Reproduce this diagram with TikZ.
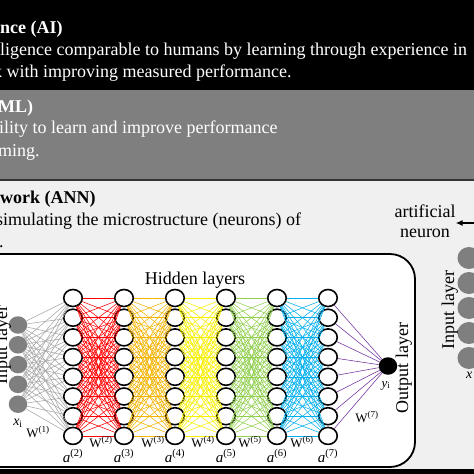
\documentclass[tikz,border=0pt]{standalone}
\usepackage{fontspec}
\setmainfont{Liberation Serif}
\usetikzlibrary{shapes.geometric,arrows.meta}

\definecolor{mlgray}{HTML}{7F7F7F}
\definecolor{anngray}{HTML}{F0F0F0}
\definecolor{ingray}{HTML}{7F7F7F}
\definecolor{wone}{HTML}{A6A6A6}
\definecolor{wtwo}{HTML}{FF0000}
\definecolor{wthree}{HTML}{F5B400}
\definecolor{wfour}{HTML}{F8F000}
\definecolor{wfive}{HTML}{92D050}
\definecolor{wsix}{HTML}{00B0F0}
\definecolor{wseven}{HTML}{7030A0}

\begin{document}
\begin{tikzpicture}[x=1pt, y=-1pt,
    neuron/.style={ellipse, draw, line width=1.6pt, fill=white, minimum width=18.5pt, minimum height=17pt, inner sep=0pt},
    innode/.style={ellipse, fill=ingray, minimum width=18.5pt, minimum height=17.5pt, inner sep=0pt},
    head/.style={anchor=base west, inner sep=0pt, font=\fontsize{18}{22}\selectfont},
    headb/.style={head, font=\fontsize{18}{22}\selectfont\bfseries},
    big/.style={inner sep=0pt, font=\fontsize{18}{20}\selectfont},
    lbl/.style={inner sep=0pt, anchor=base, font=\fontsize{13}{15}\selectfont},
    link/.style={line width=0.55pt}]
      \useasboundingbox (0,0) rectangle (474,474);
      \clip (0,0) rectangle (474,474);
      %\draw [dotted] (0,0) grid[step=50] (474,474);
      \fill [black]   (0,0)   rectangle (474,474);
      \fill [mlgray]  (0,90)  rectangle (474,180);
      \fill [anngray] (0,181) rectangle (474,469);
      \draw [line width=2pt, black!80] (0,180) -- (474,180);
      \draw [line width=1.8pt, fill=white, rounded corners=25pt] (-30,254) rectangle (415,467);

      \node [headb, text=white] (ai1) at ( 0, 33) {nce (AI)};
      \node [head,  text=white] (ai2) at ( 0, 55) {ligence comparable to humans by learning through experience in};
      \node [head,  text=white] (ai3) at (-7, 77) {k with improving measured performance.};
      \node [headb, text=white] (ml1) at (-2,112) {ML)};
      \node [head,  text=white] (ml2) at (-1,133) {ility to learn and improve performance};
      \node [head,  text=white] (ml3) at (-2,156) {ming.};
      \node [headb]             (an1) at ( 0,203) {work (ANN)};
      \node [head]              (an2) at (-4,225) {simulating the microstructure (neurons) of};
      \node [head]              (an3) at (-1,247) {.};

      \node [big, align=center] (artn) at (425,221) {artificial\\neuron};
      \coordinate (arrst) at (476,223);
      \draw [line width=1.2pt, -{Latex[length=7pt,width=6pt]}] (arrst) -- (artn.east |- arrst);

      \foreach \k in {1,...,5}
        \node [innode] (x\k) at (18, {325+(\k-1)*19.8}) {};
      \foreach \l/\x in {2/73,3/124,4/175,5/226,6/277,7/328}
        \foreach \k in {1,...,8}
          \node [neuron] (a\l-\k) at (\x, {298+(\k-1)*19.7}) {};
      \node [ellipse, fill=black, minimum width=18.5pt, minimum height=17.5pt, inner sep=0pt] (yout) at (388,366) {};

      \foreach \k in {1,...,5}
        \foreach \j in {1,...,8}
          \draw [link, wone] (x\k) -- (a2-\j);
      \foreach \l/\m/\c in {2/3/wtwo,3/4/wthree,4/5/wfour,5/6/wfive,6/7/wsix}
        \foreach \k in {1,...,8}
          \foreach \j in {1,...,8}
            \draw [link, \c] (a\l-\k) -- (a\m-\j);
      \foreach \k in {1,...,8}
        \draw [link, wseven] (a7-\k) -- (yout);

      \foreach \k in {1,...,5}
        \node [innode, minimum width=23pt, minimum height=22pt] (r\k) at (469, {258+(\k-1)*25}) {};

      \node [big, anchor=base]            (hid)  at (195,284) {Hidden layers};
      \node [big, anchor=base, rotate=90] (outl) at (408,368) {Output layer};
      \node [big, anchor=base, rotate=90] (inl)  at (7,345)   {Input layer};
      \node [big, anchor=base, rotate=90] (inr)  at (454,310) {Input layer};

      \node [lbl, font=\fontsize{14}{16}\selectfont] (xi) at (18,425) {\textit{x}\textsubscript{i}};
      \node [lbl, font=\fontsize{14}{16}\selectfont, anchor=base west] (xr) at (466,378) {\textit{x}};
      \node [lbl] (yi) at (386,387) {\textit{y}\textsubscript{i}};
      \node [lbl] (w1) at (38,437) {W\textsuperscript{(1)}};
      \foreach \n/\x in {2/101,3/153,4/203,5/250,6/302}
        \node [lbl] (w\n) at (\x,447) {W\textsuperscript{(\n)}};
      \node [lbl] (w7) at (367,422) {W\textsuperscript{(7)}};
      \foreach \l/\x in {2/73,3/124,4/175,5/226,6/277,7/328}
        \node [lbl, font=\fontsize{15}{17}\selectfont] (la\l) at (\x,462) {\textit{a}\textsuperscript{(\l)}};
\end{tikzpicture}
\end{document}
